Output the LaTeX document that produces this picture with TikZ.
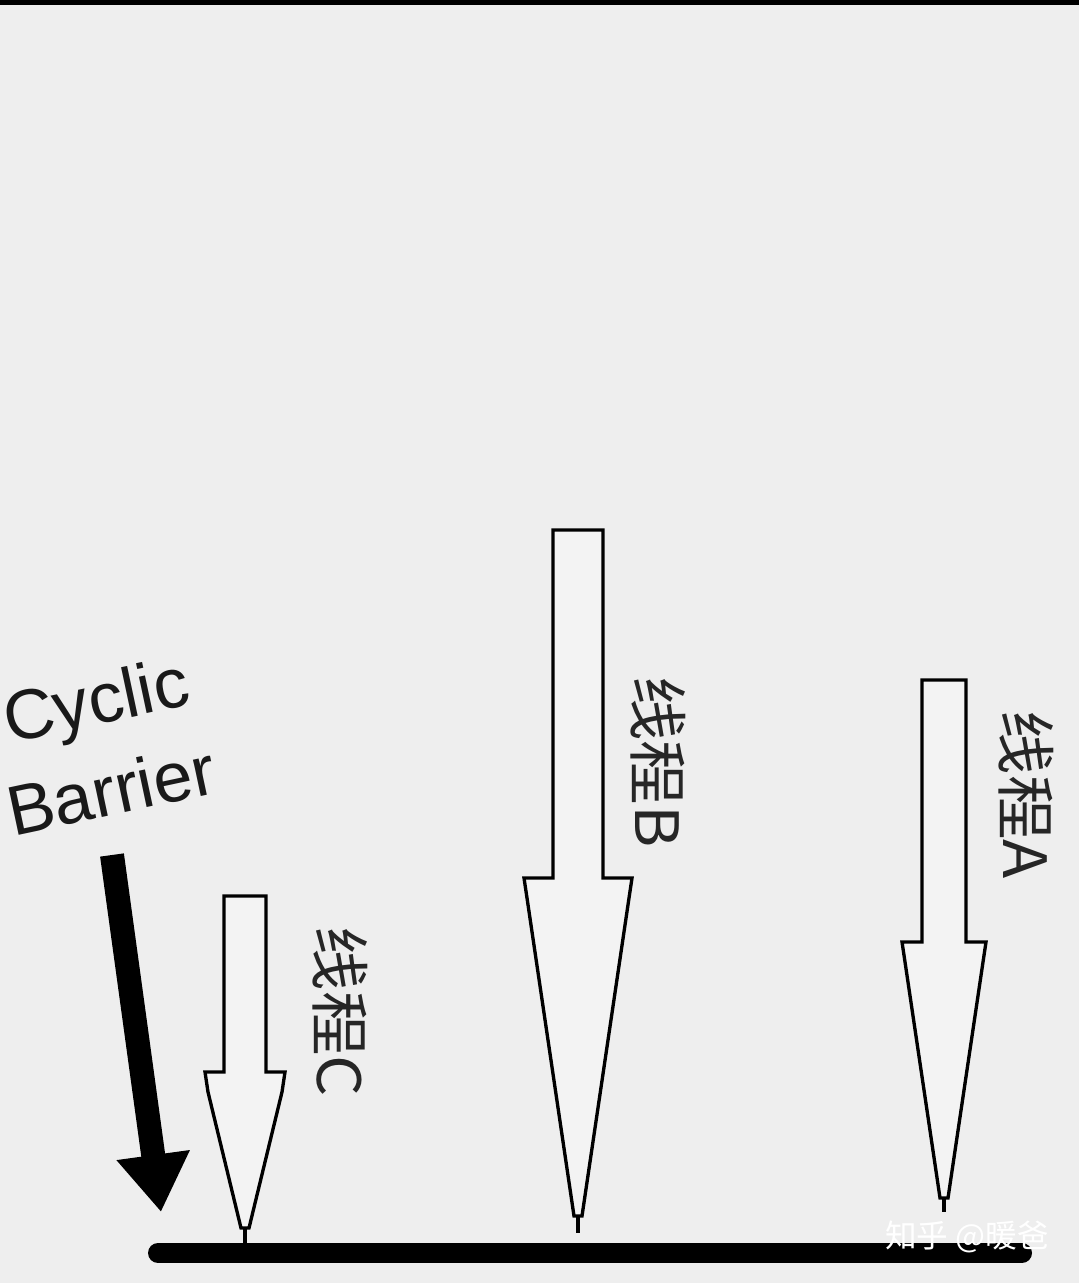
\documentclass[tikz,border=0pt]{standalone}
\usepackage{fontspec}
\setmainfont{Liberation Sans}
\newfontfamily\cjkfont{Noto Sans CJK SC}
\usetikzlibrary{arrows.meta}

\definecolor{paper}{RGB}{238,238,238}

\begin{document}
\begin{tikzpicture}[
        x=0.02cm, y=-0.02cm,
        threadarrow/.style={draw=black, line width=1.9pt, fill=white, fill opacity=0.35, line join=miter},
        threadlabel/.style={font=\cjkfont\fontsize{34}{34}\selectfont, text=black!85, rotate=-90, xscale=1.08, inner sep=0pt},
        barrierline/.style={line width=0.4cm, line cap=round},
        cbword/.style={font=\fontsize{40}{40}\selectfont, rotate=12, inner sep=0pt, text=black!90},
      ]
      % paper and frame line
      \fill[paper] (0,0) rectangle (1079,1283);
      \useasboundingbox (0,0) rectangle (1079,1283);
      \fill[black] (0,0) rectangle (1079,5);

      % the barrier
      \coordinate (barL) at (158,1253);
      \coordinate (barR) at (1022,1253);
      \draw[barrierline] (barL) -- (barR);

      % threads C, B, A
      \foreach \cx/\sw/\top/\sh/\hw/\tip/\stem/\lx/\ly/\name in {
          245/21/896/1072/40/1228/1243/340/1012/C,
          578/25/530/878/54/1216/1233/658/762/B,
          944/22/680/942/42/1198/1212/1026/795/A}{
        \draw[threadarrow] ({\cx-\sw},\top) -- ({\cx+\sw},\top) -- ({\cx+\sw},\sh)
          -- ({\cx+\hw},\sh) -- ({\cx+\hw-3},{\sh+20}) -- ({\cx+4},\tip)
          -- ({\cx-4},\tip) -- ({\cx-\hw+3},{\sh+20}) -- ({\cx-\hw},\sh)
          -- ({\cx-\sw},\sh) -- cycle;
        \draw[line width=1.9pt] (\cx,\tip) coordinate (tip\name) -- (\cx,\stem);
        \node[threadlabel] (lab\name) at (\lx,\ly) {线程\name};
      }

      % cyclic barrier label and arrow
      \node[cbword] (cbCyclic) at (97,706) {Cyclic};
      \node[cbword] (cbBarrier) at (111,790) {Barrier};
      \coordinate (cbStart) at (112,855);
      \coordinate (cbTip) at (161,1212);
      \draw[line width=0.48cm, -{Triangle[width=1.4cm, length=1.15cm]}] (cbStart) -- (cbTip);

      % watermark
      \node[font=\cjkfont\fontsize{18}{18}\selectfont, text=white] (mark) at (967,1237) {知乎 @暖爸};
    \end{tikzpicture}
\end{document}
